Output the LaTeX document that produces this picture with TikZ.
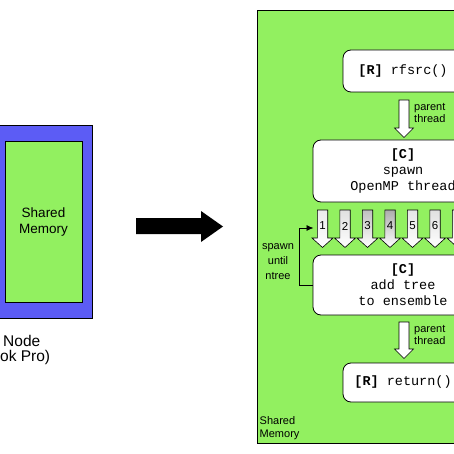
\documentclass[tikz,border=0pt]{standalone}
\usepackage{fontspec}
\setmainfont{Liberation Sans}
\setmonofont{Liberation Mono}
\usetikzlibrary{arrows.meta}
\definecolor{lgreen}{RGB}{146,240,96}
\definecolor{pblue}{RGB}{92,92,245}
\begin{document}
\begin{tikzpicture}[x=1pt,y=-1pt,
  codebox/.style={draw=black, line width=0.8pt, fill=white, rounded corners=8pt,
    font=\fontsize{13.5}{16}\selectfont\ttfamily, align=center, inner sep=0pt},
  sans/.style 2 args={font=\fontsize{#1}{#2}\selectfont, align=center, inner sep=0pt},
  blockarrow/.style={draw=black, line width=0.6pt, fill=white},
  looparrow/.style={draw=black, line width=0.8pt, -{Latex[length=7pt,width=6pt]}}
]
\useasboundingbox (0,0) rectangle (454,454);
\clip (0,0) rectangle (454,454);
\fill[white] (0,0) rectangle (454,454);

% ---- left: compute node
\node (cnode) [draw=black, line width=0.6pt, fill=pblue, minimum width=112pt, minimum height=193pt, inner sep=0pt] at (36,221.5) {};
\node (lmem) [draw=black, line width=0.8pt, fill=lgreen, minimum width=77pt, minimum height=161pt, inner sep=0pt,
  font=\fontsize{13.5}{16}\selectfont, align=center] at (43.5,222) {Shared\\Memory};
\node (l1) [anchor=west, inner sep=0pt, font=\fontsize{15.5}{16}\selectfont] at (3,341) {Node};
\node (l2) [anchor=west, inner sep=0pt, font=\fontsize{15.5}{16}\selectfont] at (0,357) {ok Pro)};

% ---- big arrow
\fill[black] (136,218) -- (201,218) -- (201,211) -- (223,226.5) -- (201,242) -- (201,234) -- (136,234) -- cycle;

% ---- right panel
\node (panel) [draw=black, line width=0.8pt, fill=lgreen, minimum width=240pt, minimum height=433pt, inner sep=0pt] at (377,226.5) {};
\node (rmem) [sans={11}{13}, anchor=west, align=left] at (259.5,428.5) {Shared\\Memory};

% ---- code boxes
\node (rfsrc) [codebox, minimum width=120pt, minimum height=42pt] at (403,71) {\textbf{[R]} rfsrc()};
\node (spawn) [codebox, minimum width=180pt, minimum height=62pt] at (403,171) {\textbf{[C]}\\spawn\\OpenMP thread};
\node (addtree) [codebox, minimum width=180pt, minimum height=60pt] at (403,285) {\textbf{[C]}\\add tree\\to ensemble};
\node (ret) [codebox, minimum width=120pt, minimum height=39pt] at (403,382.5) {\textbf{[R]} return()};

% ---- parent thread arrows
\draw[blockarrow] (399,100) -- (409,100) -- (409,128) -- (413.5,128) -- (404,137.5) -- (394.5,128) -- (399,128) -- cycle;
\node (pt1) [sans={11}{12.5}, anchor=west, align=left] at (414,113) {parent\\thread};
\draw[blockarrow] (399,322) -- (409,322) -- (409,349) -- (413.5,349) -- (404,358.5) -- (394.5,349) -- (399,349) -- cycle;
\node (pt2) [sans={11}{12.5}, anchor=west, align=left] at (414,335) {parent\\thread};

% ---- thread arrows
\foreach \i/\c in {1/15,2/25,3/50,4/65,5/20,6/25,7/22}{
  \pgfmathsetmacro{\cx}{322.5+22.5*(\i-1)}
  \shade[top color=gray!\c, bottom color=white, draw=black, line width=0.6pt]
    (\cx-5.2,210) -- (\cx+5.2,210) -- (\cx+5.2,238) -- (\cx+10.5,238) -- (\cx,247.5) -- (\cx-10.5,238) -- (\cx-5.2,238) -- cycle;
  \node (th\i) [sans={11.5}{12}] at (\cx,226) {\i};
}
\coordinate (loopend) at (313.5,228);

% ---- spawn loop
\draw[looparrow] (addtree.west) -- (299,285) |- (loopend);
\node (loop) [sans={11}{15}] at (278,262) {spawn\\until\\ntree};
\end{tikzpicture}
\end{document}
